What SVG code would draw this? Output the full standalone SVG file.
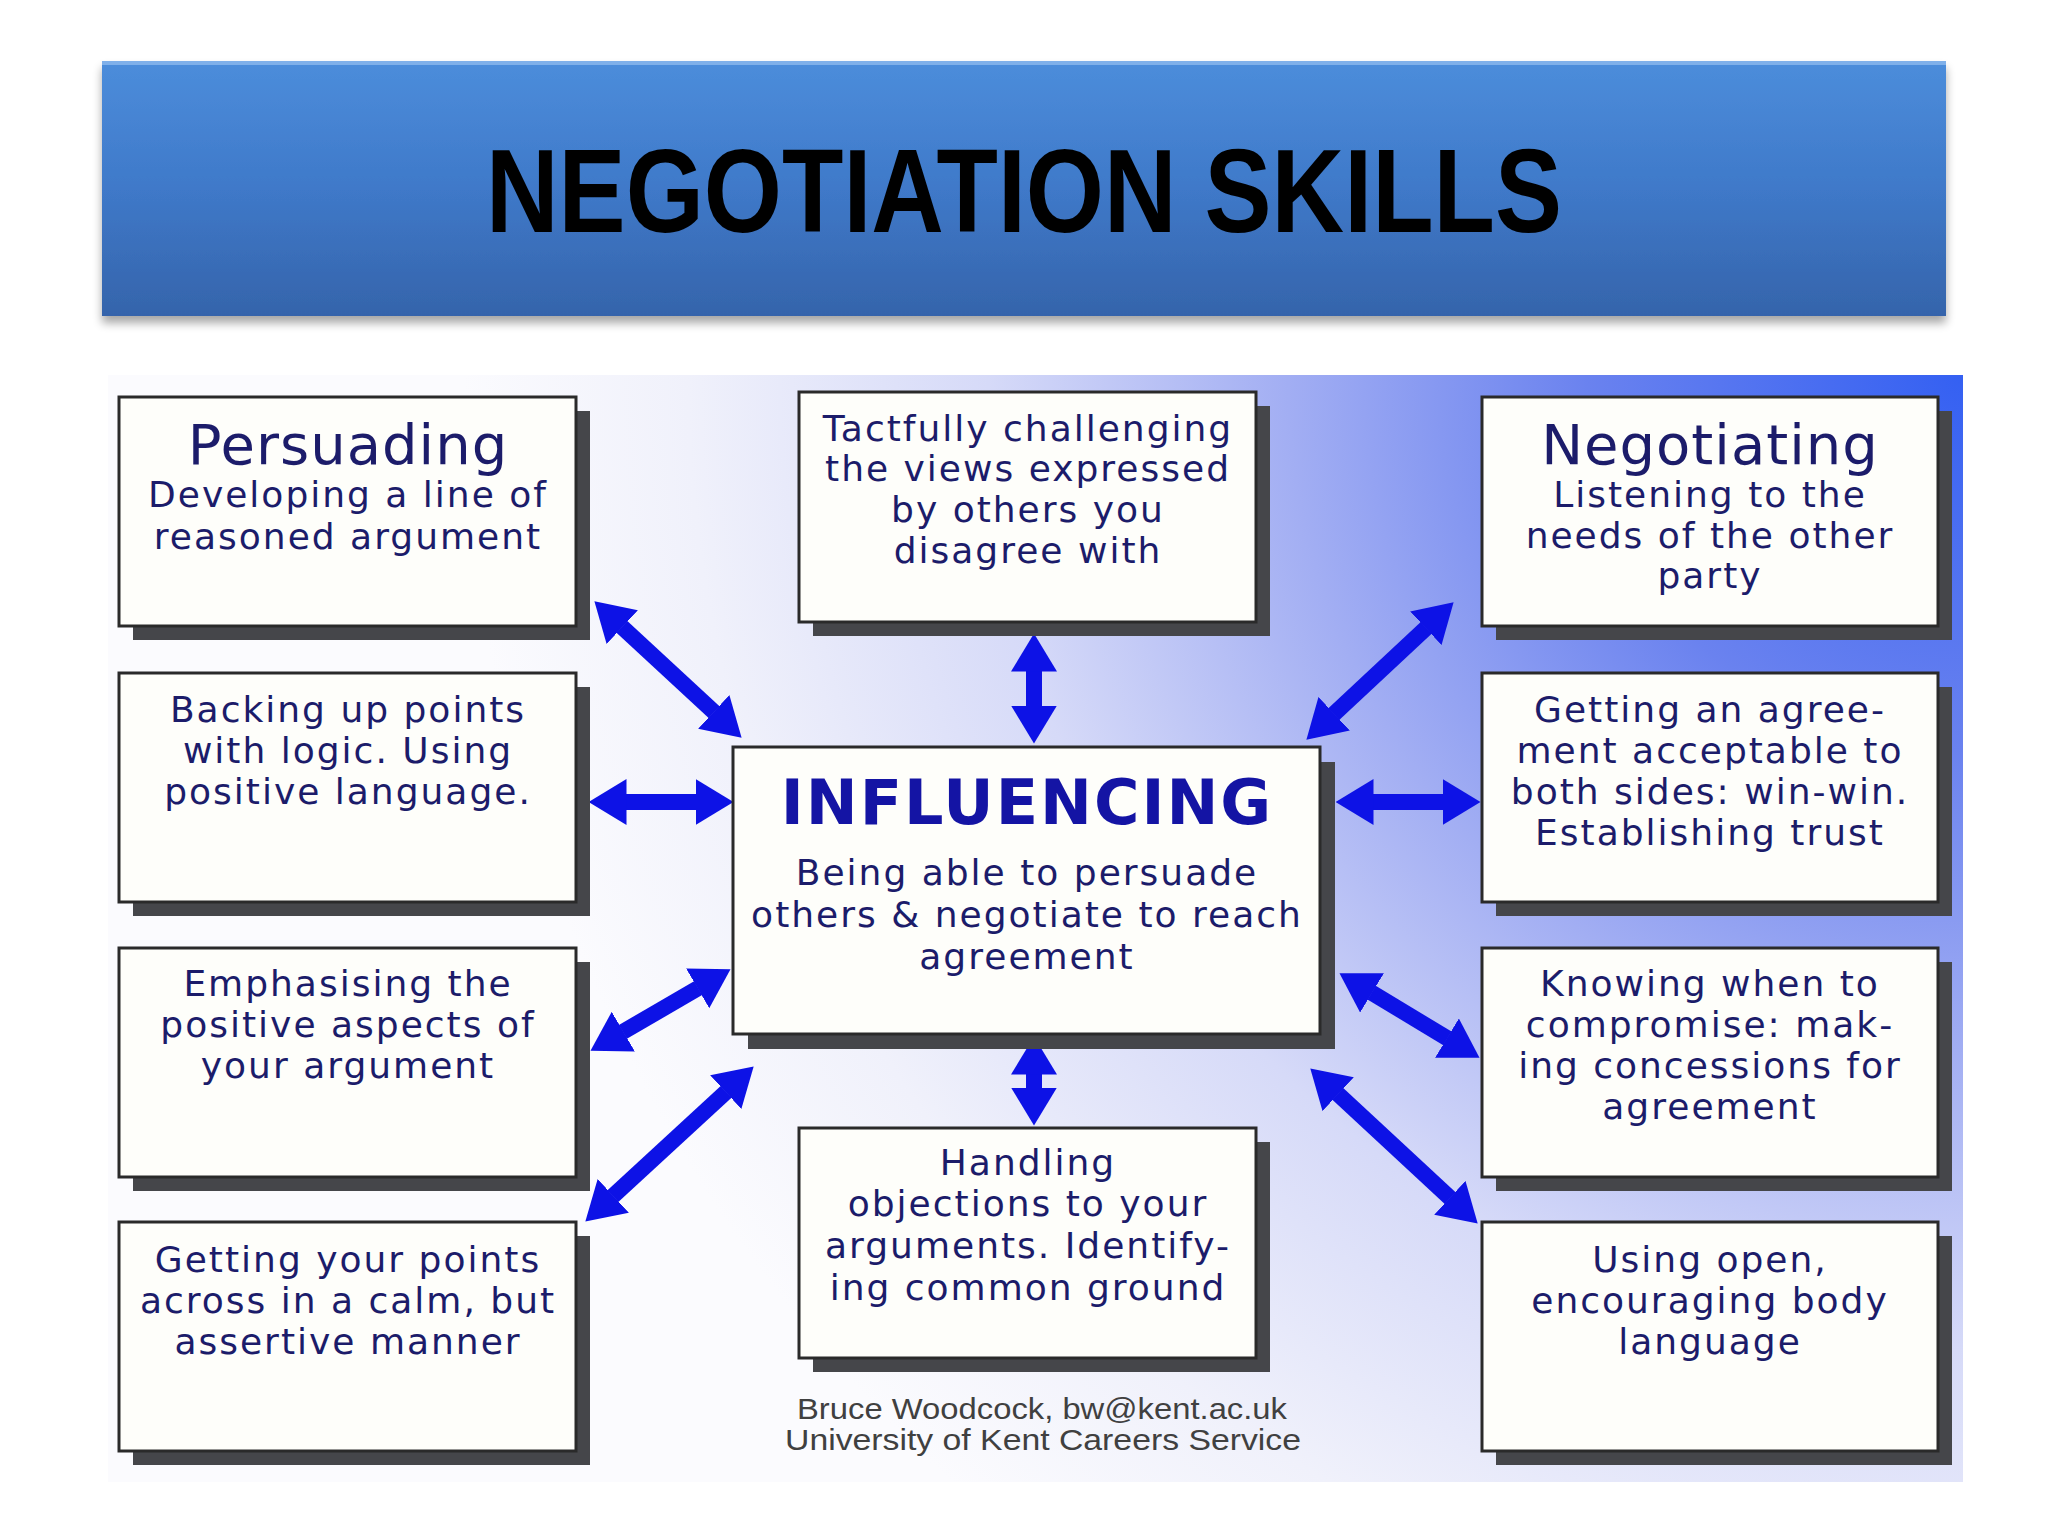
<svg xmlns="http://www.w3.org/2000/svg" width="2048" height="1536" viewBox="0 0 2048 1536">
<defs>
  <linearGradient id="titleGrad" x1="0" y1="0" x2="0" y2="1">
    <stop offset="0" stop-color="#4c8ddb"/>
    <stop offset="0.5" stop-color="#3f79c9"/>
    <stop offset="1" stop-color="#3564ab"/>
  </linearGradient>
  <radialGradient id="panelGrad" gradientUnits="userSpaceOnUse" cx="1963" cy="375" r="1500">
    <stop offset="0" stop-color="#3460f2"/>
    <stop offset="0.25" stop-color="#6a82ef"/>
    <stop offset="0.45" stop-color="#a2aef3"/>
    <stop offset="0.65" stop-color="#d6daf8"/>
    <stop offset="0.85" stop-color="#f0f1fb"/>
    <stop offset="1" stop-color="#fbfbfe"/>
  </radialGradient>
  <filter id="titleShadow" x="-5%" y="-10%" width="110%" height="130%">
    <feGaussianBlur in="SourceAlpha" stdDeviation="5"/>
    <feOffset dx="0" dy="7" result="b"/>
    <feComponentTransfer><feFuncA type="linear" slope="0.35"/></feComponentTransfer>
    <feMerge><feMergeNode/><feMergeNode in="SourceGraphic"/></feMerge>
  </filter>
  <marker id="ah" markerUnits="userSpaceOnUse" viewBox="0 0 38 46" refX="0.5" refY="23" markerWidth="38" markerHeight="46" orient="auto-start-reverse">
    <path d="M0,0 L38,23 L0,46 z" fill="#0d12e6"/>
  </marker>
</defs>
<style>
  .box{fill:#fefefa;stroke:#2a2a2a;stroke-width:3}
  .shadow{fill:#45464a}
  .t{font-family:"DejaVu Sans",Verdana,sans-serif;font-size:36px;letter-spacing:2px;fill:#1c1c6a;text-anchor:middle}
  .big{font-size:56px;letter-spacing:1px}
  .inf{font-family:"DejaVu Sans",Verdana,sans-serif;font-size:62px;letter-spacing:2px;font-weight:bold;fill:#1414a4;text-anchor:middle}
  .arrow{stroke:#0d12e6;stroke-width:16;fill:none;marker-start:url(#ah);marker-end:url(#ah)}
  .credit{font-family:"Liberation Sans",Arial,sans-serif;font-size:29px;fill:#404040;text-anchor:middle}
</style>
<rect x="0" y="0" width="2048" height="1536" fill="#ffffff"/>

<g id="title">
  <rect x="102" y="61" width="1844" height="255" fill="url(#titleGrad)" filter="url(#titleShadow)"/>
  <rect x="102" y="61" width="1844" height="4" fill="#7fb0ea"/>
  <text x="1024" y="232" font-family="'Liberation Sans',Arial,sans-serif" font-weight="bold" font-size="118" fill="#000" text-anchor="middle" textLength="1076" lengthAdjust="spacingAndGlyphs">NEGOTIATION SKILLS</text>
</g>

<rect id="panel" x="108" y="375" width="1855" height="1107" fill="url(#panelGrad)"/>

<g id="connectors">
  <line class="arrow" x1="621.9" y1="626.8" x2="714.1" y2="712.2"/>
  <line class="arrow" x1="626" y1="802" x2="696" y2="802"/>
  <line class="arrow" x1="622.9" y1="1031.9" x2="698.1" y2="988.1"/>
  <line class="arrow" x1="612.9" y1="1196.2" x2="726.1" y2="1091.8"/>
  <line class="arrow" x1="1034" y1="671" x2="1034" y2="706"/>
  <line class="arrow" x1="1034" y1="1074" x2="1034" y2="1088"/>
  <line class="arrow" x1="1426.2" y1="627.9" x2="1333.8" y2="714.1"/>
  <line class="arrow" x1="1373" y1="802" x2="1443" y2="802"/>
  <line class="arrow" x1="1371.6" y1="992.6" x2="1447.4" y2="1038.4"/>
  <line class="arrow" x1="1337.8" y1="1093.9" x2="1450.2" y2="1198.1"/>
</g>

<g id="persuading">
  <rect class="shadow" x="133" y="411" width="457" height="229"/>
  <rect class="box" x="119" y="397" width="457" height="229"/>
  <text class="t big" x="348" y="464">Persuading</text>
  <text class="t" x="348" y="507">Developing a line of</text>
  <text class="t" x="348" y="549">reasoned argument</text>
</g>

<g id="backing">
  <rect class="shadow" x="133" y="687" width="457" height="229"/>
  <rect class="box" x="119" y="673" width="457" height="229"/>
  <text class="t" x="348" y="722">Backing up points</text>
  <text class="t" x="348" y="763">with logic. Using</text>
  <text class="t" x="348" y="804">positive language.</text>
</g>

<g id="emphasising">
  <rect class="shadow" x="133" y="962" width="457" height="229"/>
  <rect class="box" x="119" y="948" width="457" height="229"/>
  <text class="t" x="348" y="996">Emphasising the</text>
  <text class="t" x="348" y="1037">positive aspects of</text>
  <text class="t" x="348" y="1078">your argument</text>
</g>

<g id="calm">
  <rect class="shadow" x="133" y="1236" width="457" height="229"/>
  <rect class="box" x="119" y="1222" width="457" height="229"/>
  <text class="t" x="348" y="1272">Getting your points</text>
  <text class="t" x="348" y="1313">across in a calm, but</text>
  <text class="t" x="348" y="1354">assertive manner</text>
</g>

<g id="tactfully">
  <rect class="shadow" x="813" y="406" width="457" height="230"/>
  <rect class="box" x="799" y="392" width="457" height="230"/>
  <text class="t" x="1028" y="441">Tactfully challenging</text>
  <text class="t" x="1028" y="481">the views expressed</text>
  <text class="t" x="1028" y="522">by others you</text>
  <text class="t" x="1028" y="563">disagree with</text>
</g>

<g id="influencing">
  <rect class="shadow" x="748" y="762" width="587" height="287"/>
  <rect class="box" x="733" y="747" width="587" height="287"/>
  <text class="inf" x="1027" y="824">INFLUENCING</text>
  <text class="t" x="1027" y="885">Being able to persuade</text>
  <text class="t" x="1027" y="927">others &amp; negotiate to reach</text>
  <text class="t" x="1027" y="969">agreement</text>
</g>

<g id="handling">
  <rect class="shadow" x="813" y="1142" width="457" height="230"/>
  <rect class="box" x="799" y="1128" width="457" height="230"/>
  <text class="t" x="1028" y="1175">Handling</text>
  <text class="t" x="1028" y="1216">objections to your</text>
  <text class="t" x="1028" y="1258">arguments. Identify-</text>
  <text class="t" x="1028" y="1300">ing common ground</text>
</g>

<g id="negotiating">
  <rect class="shadow" x="1496" y="411" width="456" height="229"/>
  <rect class="box" x="1482" y="397" width="456" height="229"/>
  <text class="t big" x="1710" y="464">Negotiating</text>
  <text class="t" x="1710" y="507">Listening to the</text>
  <text class="t" x="1710" y="548">needs of the other</text>
  <text class="t" x="1710" y="588">party</text>
</g>

<g id="agreement">
  <rect class="shadow" x="1496" y="687" width="456" height="229"/>
  <rect class="box" x="1482" y="673" width="456" height="229"/>
  <text class="t" x="1710" y="722">Getting an agree-</text>
  <text class="t" x="1710" y="763">ment acceptable to</text>
  <text class="t" x="1710" y="804">both sides: win-win.</text>
  <text class="t" x="1710" y="845">Establishing trust</text>
</g>

<g id="compromise">
  <rect class="shadow" x="1496" y="962" width="456" height="229"/>
  <rect class="box" x="1482" y="948" width="456" height="229"/>
  <text class="t" x="1710" y="996">Knowing when to</text>
  <text class="t" x="1710" y="1037">compromise: mak-</text>
  <text class="t" x="1710" y="1078">ing concessions for</text>
  <text class="t" x="1710" y="1119">agreement</text>
</g>

<g id="body-language">
  <rect class="shadow" x="1496" y="1236" width="456" height="229"/>
  <rect class="box" x="1482" y="1222" width="456" height="229"/>
  <text class="t" x="1710" y="1272">Using open,</text>
  <text class="t" x="1710" y="1313">encouraging body</text>
  <text class="t" x="1710" y="1354">language</text>
</g>

<g id="credits">
  <text class="credit" x="1042" y="1419" textLength="490" lengthAdjust="spacingAndGlyphs">Bruce Woodcock, bw@kent.ac.uk</text>
  <text class="credit" x="1043" y="1450" textLength="516" lengthAdjust="spacingAndGlyphs">University of Kent Careers  Service</text>
</g>
</svg>
